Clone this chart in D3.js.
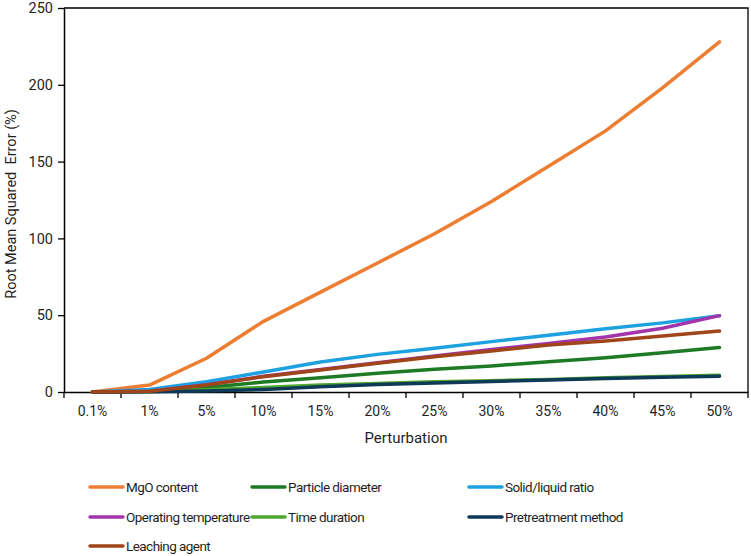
<!DOCTYPE html>
<html>
<head>
<meta charset="utf-8">
<script src="https://cdn.jsdelivr.net/npm/d3@7"></script>
<style>
body { margin: 0; background: #fff; }
text { font-family: "Roboto", "Liberation Sans", sans-serif; fill: #1f1f1f; }
</style>
</head>
<body>
<svg class="chart" width="751" height="556"></svg>
<script>
var categories = ["0.1%", "1%", "5%", "10%", "15%", "20%", "25%", "30%", "35%", "40%", "45%", "50%"];
var yTicks = [0, 50, 100, 150, 200, 250];

var mgo       = [0, 4.5, 22, 46, 65, 84, 103, 124, 147, 170, 198, 228];
var particle  = [0, 0.5, 3, 6.5, 9.3, 12.2, 14.8, 17, 19.7, 22.3, 25.6, 29];
var solid     = [0, 1.7, 6.7, 13, 19.5, 24.5, 28.5, 32.8, 37, 41.2, 45, 49.7];
var operating = [0, 0.5, 4.8, 10.2, 14.6, 19, 23.4, 27.6, 31.6, 35.8, 41.5, 49.7];
var timeDur   = [0, 0.3, 1.5, 3, 4.5, 5.6, 6.6, 7.4, 8.2, 9.2, 10.1, 10.9];
var pretreat  = [0, 0.1, 0.6, 1.6, 3.4, 4.9, 5.8, 6.8, 7.8, 8.8, 9.6, 10.3];
var leaching  = [0, 0.5, 4.6, 10, 14.3, 18.7, 23, 26.7, 30.6, 33.2, 36.5, 39.7];

var seriesNames = ["MgO content", "Particle diameter", "Solid/liquid ratio", "Operating temperature", "Time duration", "Pretreatment method", "Leaching agent"];
var seriesValues = [mgo, particle, solid, operating, timeDur, pretreat, leaching];
var seriesColors = ["#ED7D31", "#1F7A26", "#1DA1E0", "#A235AC", "#4EA72E", "#0E3A58", "#A0441A"];

var svg = d3.select(".chart"),
    margin = {top: 8, right: 3, bottom: 164, left: 64},
    width = +svg.attr("width") - margin.left - margin.right,
    height = +svg.attr("height") - margin.top - margin.bottom,
    g = svg.append("g").attr("transform", "translate(" + margin.left + "," + margin.top + ")");

var x = d3.scaleBand().domain(categories).range([0, width]);
var y = d3.scaleLinear().domain([0, 250]).range([height, 0]);

// frame top / right
g.append("path")
    .attr("d", "M0,0H" + width + "V" + height)
    .attr("fill", "none")
    .attr("stroke", "#000")
    .attr("stroke-width", 1.3);

var xAxis = g.append("g")
    .attr("transform", "translate(0," + height + ")")
    .call(d3.axisBottom(x).tickSize(0).tickPadding(14));
xAxis.select(".domain").attr("stroke-width", 1.5);
xAxis.selectAll("text").attr("font-size", 14).attr("font-family", null);
// tick marks sit on the band edges
xAxis.selectAll(".edge")
    .data(categories.concat(["end"]))
    .enter().append("line")
    .attr("class", "edge")
    .attr("x1", function(d, i) { return i < categories.length ? x(d) : width; })
    .attr("x2", function(d, i) { return i < categories.length ? x(d) : width; })
    .attr("y1", 0).attr("y2", 6)
    .attr("stroke", "#000").attr("stroke-width", 1.3);

var yAxis = g.append("g")
    .call(d3.axisLeft(y).tickValues(yTicks).tickSize(6).tickPadding(5).tickSizeOuter(0));
yAxis.select(".domain").attr("stroke-width", 1.5);
yAxis.selectAll("line").attr("stroke-width", 1.3);
yAxis.selectAll("text").attr("font-size", 14.5).attr("font-family", null);

var line = d3.line()
    .x(function(d, i) { return x(categories[i]) + x.bandwidth() / 2; })
    .y(function(d) { return y(d); });

g.selectAll(".series")
    .data(seriesValues)
    .enter().append("path")
    .attr("class", "series")
    .attr("fill", "none")
    .attr("stroke", function(d, i) { return seriesColors[i]; })
    .attr("stroke-width", 3.5)
    .attr("stroke-linejoin", "round")
    .attr("stroke-linecap", "round")
    .attr("d", line);

svg.append("text")
    .attr("transform", "translate(16," + (margin.top + height / 2 + 4) + ") rotate(-90)")
    .attr("text-anchor", "middle")
    .attr("font-size", 14.5)
    .style("white-space", "pre")
    .text("Root Mean Squared  Error (%)");

svg.append("text")
    .attr("x", margin.left + width / 2)
    .attr("y", 443)
    .attr("text-anchor", "middle")
    .attr("font-size", 15)
    .text("Perturbation");

// legend
var legendCols = [90, 252, 469];
var legendRows = [487, 517, 546];
var legend = svg.selectAll(".legend")
    .data(seriesNames)
    .enter().append("g")
    .attr("class", "legend")
    .attr("transform", function(d, i) {
      return "translate(" + legendCols[i % 3] + "," + legendRows[Math.floor(i / 3)] + ")";
    });
legend.append("line")
    .attr("x1", 0).attr("x2", 33)
    .attr("stroke", function(d, i) { return seriesColors[i]; })
    .attr("stroke-width", 3.5)
    .attr("stroke-linecap", "round");
legend.append("text")
    .attr("x", 36)
    .attr("dy", "0.35em")
    .attr("font-size", 13.5)
    .attr("letter-spacing", -0.55)
    .text(function(d) { return d; });
</script>
</body>
</html>
